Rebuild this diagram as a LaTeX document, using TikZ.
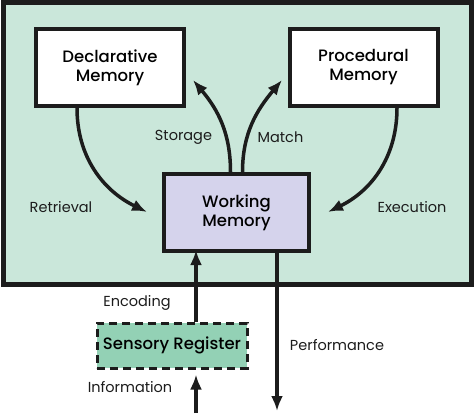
\documentclass[tikz,border=0pt]{standalone}
\usepackage{fontspec}
\setmainfont{Poppins}
\newfontfamily\titlefont{Poppins Medium}
\usetikzlibrary{arrows.meta}
\definecolor{ink}{HTML}{1C1C1C}
\definecolor{mint}{HTML}{CAE7DA}
\definecolor{lavender}{HTML}{D5D3EC}
\definecolor{sage}{HTML}{93D1B5}

\begin{document}
\begin{tikzpicture}[x=1pt, y=1pt,
    memory/.style ={draw=ink, line width=4pt, fill=white, minimum width=148pt,
      minimum height=77pt, align=center, inner sep=0pt,
      font=\titlefont\fontsize{16.5}{19}\selectfont},
    flow/.style ={draw=ink, line width=3.5pt, -{Latex[length=15pt,width=12pt]}},
    flowtext/.style ={font=\fontsize{14.5}{17}\selectfont, text=ink}]
   \useasboundingbox (0,0) rectangle (474,413);

   \node[draw=ink, line width=5pt, fill=mint, minimum width=468pt,
     minimum height=281pt, inner sep=0pt] (system) at (237,269.5) {};

   \node[memory] (declarative) at (110,345.5)   {Declarative\\Memory};
   \node[memory] (procedural)  at (363.5,345.5) {Procedural\\Memory};
   \node[memory, fill=lavender, minimum width=145pt] (working) at (236.5,200.5) {Working\\Memory};
   \node[memory, fill=sage, dashed, dash pattern=on 8pt off 5pt, line width=3pt,
     minimum width=150pt, minimum height=45pt] (sensory) at (172,67.5) {Sensory Register};

   \coordinate (storetip) at (193,333);
   \coordinate (matchtip) at (282,333);
   \coordinate (rettip)   at (147,201);
   \coordinate (exectip)  at (328,201);
   \coordinate (info)     at (196,0);
   \coordinate (perf)     at (277,2);

   \draw[flow] ([xshift=-6pt]working.north) to[out=90, in=-50] (storetip);
   \draw[flow] ([xshift=6pt]working.north)  to[out=90, in=-130] (matchtip);
   \draw[flow] ([xshift=-33pt]declarative.south) to[out=-90, in=154] (rettip);
   \draw[flow] ([xshift=33.5pt]procedural.south) to[out=-90, in=26] (exectip);
   \draw[flow, shorten >=5pt] (info) -- (sensory.south -| info);
   \draw[flow, shorten >=-3pt] (sensory.north -| info) -- (working.south -| info);
   \draw[flow] (working.south -| perf) -- (perf);

   \node[flowtext] (storage)     at (183.5,276) {Storage};
   \node[flowtext] (match)       at (280.5,276) {Match};
   \node[flowtext] (retrieval)   at (61,206)    {Retrieval};
   \node[flowtext] (execution)   at (412,206)   {Execution};
   \node[flowtext] (encoding)    at (137,110)   {Encoding};
   \node[flowtext] (performance) at (337,68)    {Performance};
   \node[flowtext] (information) at (130,26)    {Information};

 \end{tikzpicture}
\end{document}
